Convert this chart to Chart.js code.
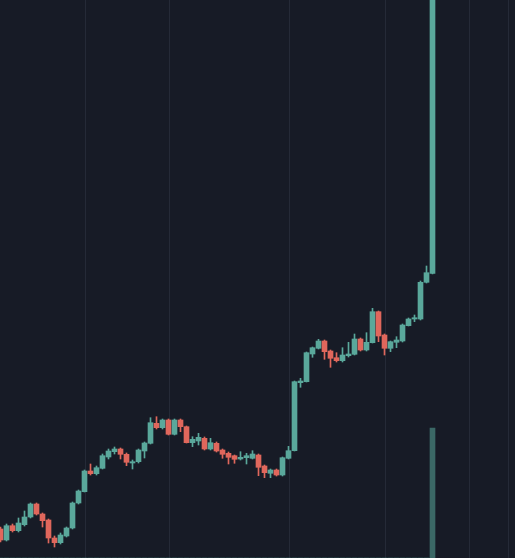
<!DOCTYPE html>
<html>
<head>
<meta charset="utf-8">
<script src="https://cdn.jsdelivr.net/npm/chart.js@4"></script>
<style>
  html, body { margin: 0; padding: 0; background: #171b26; }
  .wrap { width: 515px; height: 558px; position: relative; }
</style>
</head>
<body>
<div class="wrap"><canvas id="c"></canvas></div>
<script>
// candles, one entry per bar (index = position on the time axis)
const opens  = [29, 18, 32.3, 27.3, 33.3, 41, 54, 44, 38, 20, 15.3, 22, 30, 55, 66.3, 87, 84.3, 89.7, 101, 106.3,
  109, 103.7, 95, 96.3, 107, 114.7, 134.7, 130.3, 138, 123.7, 138, 131.3, 115.3, 117, 119.7, 109, 114.7, 108, 104.7, 102.3,
  99, 100.3, 99.7, 103, 92, 84.7, 88, 83, 99.7, 107.3, 175.3, 176.3, 204, 209.7, 217, 207, 200.3, 197.3, 202.3, 203.7,
  219, 208, 215.3, 246.3, 223, 209.7, 215.7, 217, 232.3, 239, 239, 275.7, 284.7]
const highs  = [31, 34, 34, 40, 47, 55, 55, 45, 39, 22, 25, 31, 56, 68, 88, 94, 92, 104, 109, 111,
  110, 105, 98, 109, 116, 140.3, 141.3, 139, 139, 139, 139, 132, 121.3, 124.7, 121, 119.7, 116, 109, 106, 103,
  106.3, 104.7, 107.3, 104, 93, 89, 89, 101, 111.7, 177, 179.7, 206, 211, 218.7, 218, 208, 205.3, 210.3, 215.7, 224,
  220, 225.3, 249.7, 247, 224, 217, 221.3, 234, 240, 243, 277, 292, 620]
const lows   = [16, 17, 26, 26, 32, 40, 43, 31, 15, 11, 14, 21, 29, 54, 66, 83, 83, 89, 99, 104,
  99, 92.3, 89, 95, 100, 114, 129, 129, 123, 123, 126.3, 115, 111.3, 113, 108, 108, 106, 99.7, 94, 94.7,
  98, 94, 99, 82.3, 80.3, 80.3, 82, 82, 99, 107, 170.7, 176, 200.7, 209, 198.7, 190.7, 196, 196, 201, 203,
  207, 207, 215, 216.3, 203, 206.3, 210.3, 216, 232, 236.3, 238, 275, 284]
const closes = [18, 32.3, 27.3, 35, 41, 54, 44, 37.3, 20, 15.3, 23, 30, 55, 67, 87, 84.3, 90.3, 102.3, 107, 109,
  103.7, 95.7, 96.3, 108, 115, 135.3, 130.3, 138, 123.7, 138, 131.3, 115.3, 118.7, 120.7, 109, 115.3, 107, 103.7, 100.7, 98.7,
  100.7, 102.3, 104, 90.7, 85.3, 88, 83, 100.3, 107.3, 176.3, 177, 205.3, 210.3, 217, 206.3, 199.7, 197.3, 203, 204, 219,
  208, 215.7, 246.3, 222, 209.7, 216.3, 218, 233, 239, 240.3, 275.7, 285.3, 620]
// volume pane: only the last bar stands out
const volumes = [0, 0, 0, 0, 0, 0, 0, 0, 0, 0, 0, 0, 0, 0, 0, 0, 0, 0, 0, 0,
  0, 0, 0, 0, 0, 0, 0, 0, 0, 0, 0, 0, 0, 0, 0, 0, 0, 0, 0, 0,
  0, 0, 0, 0, 0, 0, 0, 0, 0, 0, 0, 0, 0, 0, 0, 0, 0, 0, 0, 0,
  0, 0, 0, 0, 0, 0, 0, 0, 0, 0, 0, 0, 23.3]
// vertical separators (period boundaries), in bar index units
const gridAt = [14, 28, 48, 64, 78, 84.6]

const UP = '#5aa89b'
const DOWN = '#e0675c'

const colors = opens.map((o, i) => closes[i] >= o ? UP : DOWN)

const bodies = opens.map((o, i) => ({x: i, y: [o, closes[i]]}))
const wicks = opens.map((o, i) => ({x: i, y: [lows[i], highs[i]]}))
const vols = volumes.map((v, i) => ({x: i, y: v}))

const gridPlugin = {
  id: 'vgrid',
  beforeDatasetsDraw(chart) {
    const {ctx, chartArea: {top, bottom}, scales: {x}} = chart
    ctx.save()
    ctx.strokeStyle = '#252a37'
    ctx.lineWidth = 1
    gridAt.forEach(v => {
      const px = Math.round(x.getPixelForValue(v)) + 0.5
      ctx.beginPath()
      ctx.moveTo(px, top)
      ctx.lineTo(px, bottom)
      ctx.stroke()
    })
    ctx.restore()
  }
}

new Chart(document.getElementById('c'), {
  type: 'bar',
  data: {
    datasets: [
      {
        data: vols,
        yAxisID: 'vol',
        backgroundColor: 'rgba(90,168,155,0.55)',
        barThickness: 5,
        grouped: false,
        order: 3
      },
      {
        data: wicks,
        yAxisID: 'y',
        backgroundColor: colors,
        barThickness: 1,
        grouped: false,
        order: 2
      },
      {
        data: bodies,
        yAxisID: 'y',
        backgroundColor: colors,
        barThickness: 5,
        grouped: false,
        order: 1
      }
    ]
  },
  options: {
    responsive: true,
    maintainAspectRatio: false,
    animation: false,
    layout: { padding: 0 },
    scales: {
      x: { type: 'linear', display: false, min: -0.5 / 6, max: -0.5 / 6 + 515 / 6, offset: false },
      y: { display: false, min: 0, max: 558 },
      vol: { display: false, min: 0, max: 100, position: 'right' }
    },
    plugins: {
      legend: { display: false },
      tooltip: { enabled: false }
    }
  },
  plugins: [gridPlugin]
})
</script>
</body>
</html>
